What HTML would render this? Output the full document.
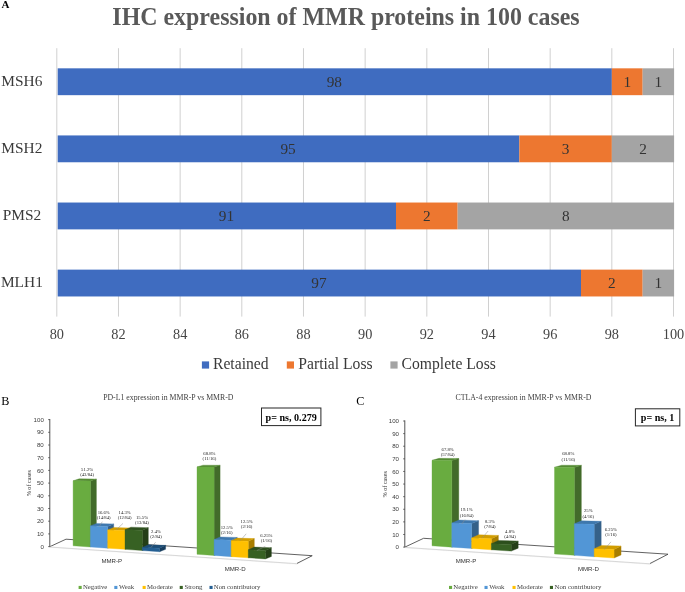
<!DOCTYPE html>
<html lang="en"><head><meta charset="utf-8"><title>IHC expression of MMR proteins</title>
<style>
html,body{margin:0;padding:0;background:#fff;}
body{width:685px;height:592px;overflow:hidden;}
svg{display:block;}
.sf{font-family:"Liberation Serif",serif;}
.ss{font-family:"Liberation Sans",sans-serif;}
</style></head><body>
<svg width="685" height="592" viewBox="0 0 685 592">
<rect width="685" height="592" fill="#ffffff"/>
<g id="panelA">
<text class="sf" x="1.5" y="8.4" font-size="11" text-anchor="start" fill="#000" font-weight="bold" >A</text>
<text class="sf" x="0" y="0" font-size="23.92" text-anchor="middle" fill="#595959" font-weight="bold" transform="translate(346,25.1) scale(1,1.04)">IHC expression of MMR proteins in 100 cases</text>
<line x1="56.8" y1="48.2" x2="56.8" y2="316.6" stroke="#d0d0d0" stroke-width="1"/>
<text class="sf" x="56.8" y="338.8" font-size="14.3" text-anchor="middle" fill="#454545" >80</text>
<line x1="118.47" y1="48.2" x2="118.47" y2="316.6" stroke="#d0d0d0" stroke-width="1"/>
<text class="sf" x="118.47" y="338.8" font-size="14.3" text-anchor="middle" fill="#454545" >82</text>
<line x1="180.14" y1="48.2" x2="180.14" y2="316.6" stroke="#d0d0d0" stroke-width="1"/>
<text class="sf" x="180.14" y="338.8" font-size="14.3" text-anchor="middle" fill="#454545" >84</text>
<line x1="241.81" y1="48.2" x2="241.81" y2="316.6" stroke="#d0d0d0" stroke-width="1"/>
<text class="sf" x="241.81" y="338.8" font-size="14.3" text-anchor="middle" fill="#454545" >86</text>
<line x1="303.48" y1="48.2" x2="303.48" y2="316.6" stroke="#d0d0d0" stroke-width="1"/>
<text class="sf" x="303.48" y="338.8" font-size="14.3" text-anchor="middle" fill="#454545" >88</text>
<line x1="365.15" y1="48.2" x2="365.15" y2="316.6" stroke="#d0d0d0" stroke-width="1"/>
<text class="sf" x="365.15" y="338.8" font-size="14.3" text-anchor="middle" fill="#454545" >90</text>
<line x1="426.82" y1="48.2" x2="426.82" y2="316.6" stroke="#d0d0d0" stroke-width="1"/>
<text class="sf" x="426.82" y="338.8" font-size="14.3" text-anchor="middle" fill="#454545" >92</text>
<line x1="488.49" y1="48.2" x2="488.49" y2="316.6" stroke="#d0d0d0" stroke-width="1"/>
<text class="sf" x="488.49" y="338.8" font-size="14.3" text-anchor="middle" fill="#454545" >94</text>
<line x1="550.16" y1="48.2" x2="550.16" y2="316.6" stroke="#d0d0d0" stroke-width="1"/>
<text class="sf" x="550.16" y="338.8" font-size="14.3" text-anchor="middle" fill="#454545" >96</text>
<line x1="611.83" y1="48.2" x2="611.83" y2="316.6" stroke="#d0d0d0" stroke-width="1"/>
<text class="sf" x="611.83" y="338.8" font-size="14.3" text-anchor="middle" fill="#454545" >98</text>
<line x1="673.5" y1="48.2" x2="673.5" y2="316.6" stroke="#d0d0d0" stroke-width="1"/>
<text class="sf" x="673.5" y="338.8" font-size="14.3" text-anchor="middle" fill="#454545" >100</text>
<rect x="57.7" y="68.33" width="554.13" height="26.84" fill="#3f6cc0"/>
<rect x="611.83" y="68.33" width="30.84" height="26.84" fill="#ed7730"/>
<rect x="642.66" y="68.33" width="31.44" height="26.84" fill="#a4a4a4"/>
<text class="sf" x="334.31" y="87.15" font-size="15.3" text-anchor="middle" fill="#333" >98</text>
<text class="sf" x="627.25" y="87.15" font-size="15.3" text-anchor="middle" fill="#333" >1</text>
<text class="sf" x="658.38" y="87.15" font-size="15.3" text-anchor="middle" fill="#333" >1</text>
<text class="sf" x="21.9" y="85.95" font-size="15.4" text-anchor="middle" fill="#3a3a3a" >MSH6</text>
<rect x="57.7" y="135.43" width="461.63" height="26.84" fill="#3f6cc0"/>
<rect x="519.33" y="135.43" width="92.5" height="26.84" fill="#ed7730"/>
<rect x="611.83" y="135.43" width="62.27" height="26.84" fill="#a4a4a4"/>
<text class="sf" x="288.06" y="154.25" font-size="15.3" text-anchor="middle" fill="#333" >95</text>
<text class="sf" x="565.58" y="154.25" font-size="15.3" text-anchor="middle" fill="#333" >3</text>
<text class="sf" x="642.96" y="154.25" font-size="15.3" text-anchor="middle" fill="#333" >2</text>
<text class="sf" x="21.9" y="153.05" font-size="15.4" text-anchor="middle" fill="#3a3a3a" >MSH2</text>
<rect x="57.7" y="202.53" width="338.29" height="26.84" fill="#3f6cc0"/>
<rect x="395.99" y="202.53" width="61.67" height="26.84" fill="#ed7730"/>
<rect x="457.66" y="202.53" width="216.44" height="26.84" fill="#a4a4a4"/>
<text class="sf" x="226.39" y="221.35" font-size="15.3" text-anchor="middle" fill="#333" >91</text>
<text class="sf" x="426.82" y="221.35" font-size="15.3" text-anchor="middle" fill="#333" >2</text>
<text class="sf" x="565.88" y="221.35" font-size="15.3" text-anchor="middle" fill="#333" >8</text>
<text class="sf" x="21.9" y="220.15" font-size="15.4" text-anchor="middle" fill="#3a3a3a" >PMS2</text>
<rect x="57.7" y="269.63" width="523.3" height="26.84" fill="#3f6cc0"/>
<rect x="581" y="269.63" width="61.67" height="26.84" fill="#ed7730"/>
<rect x="642.66" y="269.63" width="31.44" height="26.84" fill="#a4a4a4"/>
<text class="sf" x="318.9" y="288.45" font-size="15.3" text-anchor="middle" fill="#333" >97</text>
<text class="sf" x="611.83" y="288.45" font-size="15.3" text-anchor="middle" fill="#333" >2</text>
<text class="sf" x="658.38" y="288.45" font-size="15.3" text-anchor="middle" fill="#333" >1</text>
<text class="sf" x="21.9" y="287.25" font-size="15.4" text-anchor="middle" fill="#3a3a3a" >MLH1</text>
<rect x="201.9" y="361.4" width="7.2" height="7.2" fill="#3f6cc0"/>
<text class="sf" x="213" y="369.2" font-size="15.65" text-anchor="start" fill="#3a3a3a" >Retained</text>
<rect x="286.8" y="361.4" width="7.2" height="7.2" fill="#ed7730"/>
<text class="sf" x="298.3" y="369.2" font-size="15.65" text-anchor="start" fill="#3a3a3a" >Partial Loss</text>
<rect x="390.4" y="361.4" width="7.2" height="7.2" fill="#a4a4a4"/>
<text class="sf" x="401.6" y="369.2" font-size="15.65" text-anchor="start" fill="#3a3a3a" >Complete Loss</text>
</g>
<g id="panelB">
<text class="sf" x="1.3" y="404.9" font-size="12.2" text-anchor="start" fill="#000" >B</text>
<text class="sf" x="168.3" y="399.9" font-size="7.8" text-anchor="middle" fill="#404040" >PD-L1 expression in MMR-P vs MMR-D</text>
<polygon points="49.8,547.6 297,564.3 312.2,556.1 312.2,555.7 297,563.4 49.8,546.7" fill="#f0f0f0" stroke="#f0f0f0" stroke-width="0.35" stroke-linejoin="round" />
<polygon points="49.8,546.7 66,539.2 312.2,555.7 297,563.4" fill="#ffffff" stroke="#ffffff" stroke-width="0.35" stroke-linejoin="round" />
<polyline points="49.8,546.7 66,539.2 312.2,555.7 297,563.4" fill="none" stroke="#3a3a3a" stroke-width="0.8"/>
<line x1="49.8" y1="547" x2="297" y2="563.7" stroke="#d4d4d4" stroke-width="0.9"/>
<line x1="49.8" y1="419" x2="49.8" y2="546.8" stroke="#404040" stroke-width="0.9"/>
<line x1="48.2" y1="546.6" x2="49.8" y2="546.6" stroke="#404040" stroke-width="0.8"/>
<text class="ss" x="43.8" y="548.75" font-size="6.15" text-anchor="end" fill="#3c3c3c" >0</text>
<line x1="48.2" y1="533.9" x2="49.8" y2="533.9" stroke="#404040" stroke-width="0.8"/>
<text class="ss" x="43.8" y="536.05" font-size="6.15" text-anchor="end" fill="#3c3c3c" >10</text>
<line x1="48.2" y1="521.2" x2="49.8" y2="521.2" stroke="#404040" stroke-width="0.8"/>
<text class="ss" x="43.8" y="523.35" font-size="6.15" text-anchor="end" fill="#3c3c3c" >20</text>
<line x1="48.2" y1="508.5" x2="49.8" y2="508.5" stroke="#404040" stroke-width="0.8"/>
<text class="ss" x="43.8" y="510.65" font-size="6.15" text-anchor="end" fill="#3c3c3c" >30</text>
<line x1="48.2" y1="495.8" x2="49.8" y2="495.8" stroke="#404040" stroke-width="0.8"/>
<text class="ss" x="43.8" y="497.95" font-size="6.15" text-anchor="end" fill="#3c3c3c" >40</text>
<line x1="48.2" y1="483.1" x2="49.8" y2="483.1" stroke="#404040" stroke-width="0.8"/>
<text class="ss" x="43.8" y="485.25" font-size="6.15" text-anchor="end" fill="#3c3c3c" >50</text>
<line x1="48.2" y1="470.4" x2="49.8" y2="470.4" stroke="#404040" stroke-width="0.8"/>
<text class="ss" x="43.8" y="472.55" font-size="6.15" text-anchor="end" fill="#3c3c3c" >60</text>
<line x1="48.2" y1="457.7" x2="49.8" y2="457.7" stroke="#404040" stroke-width="0.8"/>
<text class="ss" x="43.8" y="459.85" font-size="6.15" text-anchor="end" fill="#3c3c3c" >70</text>
<line x1="48.2" y1="445" x2="49.8" y2="445" stroke="#404040" stroke-width="0.8"/>
<text class="ss" x="43.8" y="447.15" font-size="6.15" text-anchor="end" fill="#3c3c3c" >80</text>
<line x1="48.2" y1="432.3" x2="49.8" y2="432.3" stroke="#404040" stroke-width="0.8"/>
<text class="ss" x="43.8" y="434.45" font-size="6.15" text-anchor="end" fill="#3c3c3c" >90</text>
<line x1="48.2" y1="419.6" x2="49.8" y2="419.6" stroke="#404040" stroke-width="0.8"/>
<text class="ss" x="43.8" y="421.75" font-size="6.15" text-anchor="end" fill="#3c3c3c" >100</text>
<text class="sf" x="0" y="0" font-size="6.15" text-anchor="middle" fill="#333" transform="translate(31.4,483.2) rotate(-90)">% of cases</text>
<polygon points="90.4,481.02 96.4,479.09 96.4,544.65 90.4,546.99" fill="#426b2a" stroke="#426b2a" stroke-width="0.35" stroke-linejoin="round" />
<polygon points="73.1,480.78 79.1,478.85 96.4,479.09 90.4,481.02" fill="#548a33" stroke="#548a33" stroke-width="0.35" stroke-linejoin="round" />
<polygon points="73.1,480.78 90.4,481.02 90.4,546.99 73.1,545.8" fill="#69ac40" stroke="#69ac40" stroke-width="0.35" stroke-linejoin="round" />
<polygon points="107.7,526.42 113.7,523.93 113.7,545.82 107.7,548.17" fill="#356189" stroke="#356189" stroke-width="0.35" stroke-linejoin="round" />
<polygon points="90.4,525.9 96.4,523.41 113.7,523.93 107.7,526.42" fill="#3f78ad" stroke="#3f78ad" stroke-width="0.35" stroke-linejoin="round" />
<polygon points="90.4,525.9 107.7,526.42 107.7,548.17 90.4,546.99" fill="#5296d6" stroke="#5296d6" stroke-width="0.35" stroke-linejoin="round" />
<polygon points="125,530.55 131,528 131,546.99 125,549.36" fill="#a87e00" stroke="#a87e00" stroke-width="0.35" stroke-linejoin="round" />
<polygon points="107.7,530.01 113.7,527.46 131,528 125,530.55" fill="#d19d00" stroke="#d19d00" stroke-width="0.35" stroke-linejoin="round" />
<polygon points="107.7,530.01 125,530.55 125,549.36 107.7,548.17" fill="#ffc000" stroke="#ffc000" stroke-width="0.35" stroke-linejoin="round" />
<polygon points="142.3,530.2 148.3,527.66 148.3,548.16 142.3,550.54" fill="#243f17" stroke="#243f17" stroke-width="0.35" stroke-linejoin="round" />
<polygon points="125,529.67 131,527.13 148.3,527.66 142.3,530.2" fill="#2d4f1d" stroke="#2d4f1d" stroke-width="0.35" stroke-linejoin="round" />
<polygon points="125,529.67 142.3,530.2 142.3,550.54 125,549.36" fill="#376123" stroke="#376123" stroke-width="0.35" stroke-linejoin="round" />
<polygon points="159.6,548.13 165.6,545.36 165.6,549.33 159.6,551.73" fill="#173d5e" stroke="#173d5e" stroke-width="0.35" stroke-linejoin="round" />
<polygon points="142.3,547.49 148.3,544.73 165.6,545.36 159.6,548.13" fill="#1d4e78" stroke="#1d4e78" stroke-width="0.35" stroke-linejoin="round" />
<polygon points="142.3,547.49 159.6,548.13 159.6,551.73 142.3,550.54" fill="#245f93" stroke="#245f93" stroke-width="0.35" stroke-linejoin="round" />
<polygon points="214.1,467.02 220.1,465.26 220.1,553.02 214.1,555.46" fill="#426b2a" stroke="#426b2a" stroke-width="0.35" stroke-linejoin="round" />
<polygon points="197,466.91 203,465.16 220.1,465.26 214.1,467.02" fill="#548a33" stroke="#548a33" stroke-width="0.35" stroke-linejoin="round" />
<polygon points="197,466.91 214.1,467.02 214.1,555.46 197,554.29" fill="#69ac40" stroke="#69ac40" stroke-width="0.35" stroke-linejoin="round" />
<polygon points="231.2,540.13 237.2,537.46 237.2,554.17 231.2,556.63" fill="#356189" stroke="#356189" stroke-width="0.35" stroke-linejoin="round" />
<polygon points="214.1,539.58 220.1,536.92 237.2,537.46 231.2,540.13" fill="#3f78ad" stroke="#3f78ad" stroke-width="0.35" stroke-linejoin="round" />
<polygon points="214.1,539.58 231.2,540.13 231.2,556.63 214.1,555.46" fill="#5296d6" stroke="#5296d6" stroke-width="0.35" stroke-linejoin="round" />
<polygon points="248.3,541.3 254.3,538.62 254.3,555.34 248.3,557.8" fill="#a87e00" stroke="#a87e00" stroke-width="0.35" stroke-linejoin="round" />
<polygon points="231.2,540.75 237.2,538.07 254.3,538.62 248.3,541.3" fill="#d19d00" stroke="#d19d00" stroke-width="0.35" stroke-linejoin="round" />
<polygon points="231.2,540.75 248.3,541.3 248.3,557.8 231.2,556.63" fill="#ffc000" stroke="#ffc000" stroke-width="0.35" stroke-linejoin="round" />
<polygon points="265.4,550.46 271.4,547.66 271.4,556.51 265.4,558.97" fill="#243f17" stroke="#243f17" stroke-width="0.35" stroke-linejoin="round" />
<polygon points="248.3,549.86 254.3,547.07 271.4,547.66 265.4,550.46" fill="#2d4f1d" stroke="#2d4f1d" stroke-width="0.35" stroke-linejoin="round" />
<polygon points="248.3,549.86 265.4,550.46 265.4,558.97 248.3,557.8" fill="#376123" stroke="#376123" stroke-width="0.35" stroke-linejoin="round" />
<line x1="102.3" y1="521.7" x2="99.2" y2="526.6" stroke="#8c8c8c" stroke-width="0.5"/>
<line x1="123" y1="523.4" x2="116" y2="530" stroke="#8c8c8c" stroke-width="0.5"/>
<line x1="155.7" y1="542.2" x2="150.8" y2="547.5" stroke="#8c8c8c" stroke-width="0.5"/>
<line x1="246.2" y1="533.8" x2="240.4" y2="540.5" stroke="#8c8c8c" stroke-width="0.5"/>
<line x1="265.3" y1="546.4" x2="257" y2="550.4" stroke="#8c8c8c" stroke-width="0.5"/>
<text class="sf" x="87.1" y="470.6" font-size="4.7" text-anchor="middle" fill="#1c1c1c" >51.2%</text>
<text class="sf" x="87.1" y="475.5" font-size="4.7" text-anchor="middle" fill="#1c1c1c" >(43/84)</text>
<text class="sf" x="103.7" y="514.1" font-size="4.7" text-anchor="middle" fill="#1c1c1c" >16.6%</text>
<text class="sf" x="103.7" y="519" font-size="4.7" text-anchor="middle" fill="#1c1c1c" >(14/84)</text>
<text class="sf" x="124.6" y="514.1" font-size="4.7" text-anchor="middle" fill="#1c1c1c" >14.3%</text>
<text class="sf" x="124.6" y="519.3" font-size="4.7" text-anchor="middle" fill="#1c1c1c" >(12/84)</text>
<text class="sf" x="142" y="518.6" font-size="4.7" text-anchor="middle" fill="#1c1c1c" >15.5%</text>
<text class="sf" x="142" y="523.5" font-size="4.7" text-anchor="middle" fill="#1c1c1c" >(13/84)</text>
<text class="sf" x="156" y="533.2" font-size="4.7" text-anchor="middle" fill="#1c1c1c" >2.4%</text>
<text class="sf" x="156" y="538.1" font-size="4.7" text-anchor="middle" fill="#1c1c1c" >(2/84)</text>
<text class="sf" x="209.4" y="454.6" font-size="4.7" text-anchor="middle" fill="#1c1c1c" >68.8%</text>
<text class="sf" x="209.4" y="459.5" font-size="4.7" text-anchor="middle" fill="#1c1c1c" >(11/16)</text>
<text class="sf" x="226.8" y="528.6" font-size="4.7" text-anchor="middle" fill="#1c1c1c" >12.5%</text>
<text class="sf" x="226.8" y="533.5" font-size="4.7" text-anchor="middle" fill="#1c1c1c" >(2/16)</text>
<text class="sf" x="246.6" y="523" font-size="4.7" text-anchor="middle" fill="#1c1c1c" >12.5%</text>
<text class="sf" x="246.6" y="527.9" font-size="4.7" text-anchor="middle" fill="#1c1c1c" >(2/16)</text>
<text class="sf" x="266.4" y="537.1" font-size="4.7" text-anchor="middle" fill="#1c1c1c" >6.25%</text>
<text class="sf" x="266.4" y="542.3" font-size="4.7" text-anchor="middle" fill="#1c1c1c" >(1/16)</text>
<text class="ss" x="111.8" y="562.9" font-size="6.1" text-anchor="middle" fill="#333" >MMR-P</text>
<text class="ss" x="235.2" y="571.3" font-size="6.1" text-anchor="middle" fill="#333" >MMR-D</text>
<rect x="78.6" y="585.9" width="3.1" height="3.1" fill="#69ac40"/>
<text class="sf" x="83" y="589.3" font-size="6.75" text-anchor="start" fill="#404040" >Negative</text>
<rect x="114.3" y="585.9" width="3.1" height="3.1" fill="#5296d6"/>
<text class="sf" x="118.9" y="589.3" font-size="6.75" text-anchor="start" fill="#404040" >Weak</text>
<rect x="142.6" y="585.9" width="3.1" height="3.1" fill="#ffc000"/>
<text class="sf" x="147" y="589.3" font-size="6.75" text-anchor="start" fill="#404040" >Moderate</text>
<rect x="179.7" y="585.9" width="3.1" height="3.1" fill="#376123"/>
<text class="sf" x="184.4" y="589.3" font-size="6.75" text-anchor="start" fill="#404040" >Strong</text>
<rect x="209.5" y="585.9" width="3.1" height="3.1" fill="#245f93"/>
<text class="sf" x="213.8" y="589.3" font-size="6.75" text-anchor="start" fill="#404040" >Non contributory</text>
<rect x="261.5" y="408" width="59.4" height="17.6" fill="#fff" stroke="#262626" stroke-width="1"/>
<text class="sf" x="291.2" y="421" font-size="10.1" text-anchor="middle" fill="#000" font-weight="bold" >p= ns, 0.279</text>
</g>
<g id="panelC">
<text class="sf" x="356.2" y="404.8" font-size="12.2" text-anchor="start" fill="#000" >C</text>
<text class="sf" x="523.5" y="399.9" font-size="7.8" text-anchor="middle" fill="#404040" >CTLA-4 expression in MMR-P vs MMR-D</text>
<polygon points="404.9,548 650,564.4 668,554.6 668,554.2 650,563.5 404.9,547.1" fill="#f0f0f0" stroke="#f0f0f0" stroke-width="0.35" stroke-linejoin="round" />
<polygon points="404.9,547.1 423.6,538.3 668,554.2 650,563.5" fill="#ffffff" stroke="#ffffff" stroke-width="0.35" stroke-linejoin="round" />
<polyline points="404.9,547.1 423.6,538.3 668,554.2 650,563.5" fill="none" stroke="#3a3a3a" stroke-width="0.8"/>
<line x1="404.9" y1="547.4" x2="650" y2="563.8" stroke="#d4d4d4" stroke-width="0.9"/>
<line x1="404.8" y1="420.4" x2="404.8" y2="547.3" stroke="#404040" stroke-width="0.9"/>
<line x1="403.2" y1="547.1" x2="404.8" y2="547.1" stroke="#404040" stroke-width="0.8"/>
<text class="ss" x="399" y="549.25" font-size="6.15" text-anchor="end" fill="#3c3c3c" >0</text>
<line x1="403.2" y1="534.49" x2="404.8" y2="534.49" stroke="#404040" stroke-width="0.8"/>
<text class="ss" x="399" y="536.64" font-size="6.15" text-anchor="end" fill="#3c3c3c" >10</text>
<line x1="403.2" y1="521.88" x2="404.8" y2="521.88" stroke="#404040" stroke-width="0.8"/>
<text class="ss" x="399" y="524.03" font-size="6.15" text-anchor="end" fill="#3c3c3c" >20</text>
<line x1="403.2" y1="509.27" x2="404.8" y2="509.27" stroke="#404040" stroke-width="0.8"/>
<text class="ss" x="399" y="511.42" font-size="6.15" text-anchor="end" fill="#3c3c3c" >30</text>
<line x1="403.2" y1="496.66" x2="404.8" y2="496.66" stroke="#404040" stroke-width="0.8"/>
<text class="ss" x="399" y="498.81" font-size="6.15" text-anchor="end" fill="#3c3c3c" >40</text>
<line x1="403.2" y1="484.05" x2="404.8" y2="484.05" stroke="#404040" stroke-width="0.8"/>
<text class="ss" x="399" y="486.2" font-size="6.15" text-anchor="end" fill="#3c3c3c" >50</text>
<line x1="403.2" y1="471.44" x2="404.8" y2="471.44" stroke="#404040" stroke-width="0.8"/>
<text class="ss" x="399" y="473.59" font-size="6.15" text-anchor="end" fill="#3c3c3c" >60</text>
<line x1="403.2" y1="458.83" x2="404.8" y2="458.83" stroke="#404040" stroke-width="0.8"/>
<text class="ss" x="399" y="460.98" font-size="6.15" text-anchor="end" fill="#3c3c3c" >70</text>
<line x1="403.2" y1="446.22" x2="404.8" y2="446.22" stroke="#404040" stroke-width="0.8"/>
<text class="ss" x="399" y="448.37" font-size="6.15" text-anchor="end" fill="#3c3c3c" >80</text>
<line x1="403.2" y1="433.61" x2="404.8" y2="433.61" stroke="#404040" stroke-width="0.8"/>
<text class="ss" x="399" y="435.76" font-size="6.15" text-anchor="end" fill="#3c3c3c" >90</text>
<line x1="403.2" y1="421" x2="404.8" y2="421" stroke="#404040" stroke-width="0.8"/>
<text class="ss" x="399" y="423.15" font-size="6.15" text-anchor="end" fill="#3c3c3c" >100</text>
<text class="sf" x="0" y="0" font-size="6.15" text-anchor="middle" fill="#333" transform="translate(386.9,484.3) rotate(-90)">% of cases</text>
<polygon points="451.8,460.51 458.8,458.47 458.8,544.25 451.8,547.13" fill="#426b2a" stroke="#426b2a" stroke-width="0.35" stroke-linejoin="round" />
<polygon points="432,460.37 439,458.34 458.8,458.47 451.8,460.51" fill="#548a33" stroke="#548a33" stroke-width="0.35" stroke-linejoin="round" />
<polygon points="432,460.37 451.8,460.51 451.8,547.13 432,545.8" fill="#69ac40" stroke="#69ac40" stroke-width="0.35" stroke-linejoin="round" />
<polygon points="471.6,523.62 478.6,520.63 478.6,545.56 471.6,548.45" fill="#356189" stroke="#356189" stroke-width="0.35" stroke-linejoin="round" />
<polygon points="451.8,523.06 458.8,520.07 478.6,520.63 471.6,523.62" fill="#3f78ad" stroke="#3f78ad" stroke-width="0.35" stroke-linejoin="round" />
<polygon points="451.8,523.06 471.6,523.62 471.6,548.45 451.8,547.13" fill="#5296d6" stroke="#5296d6" stroke-width="0.35" stroke-linejoin="round" />
<polygon points="491.4,538.65 498.4,535.43 498.4,546.87 491.4,549.78" fill="#a87e00" stroke="#a87e00" stroke-width="0.35" stroke-linejoin="round" />
<polygon points="471.6,538 478.6,534.77 498.4,535.43 491.4,538.65" fill="#d19d00" stroke="#d19d00" stroke-width="0.35" stroke-linejoin="round" />
<polygon points="471.6,538 491.4,538.65 491.4,549.78 471.6,548.45" fill="#ffc000" stroke="#ffc000" stroke-width="0.35" stroke-linejoin="round" />
<polygon points="511.2,544.42 518.2,541.11 518.2,548.17 511.2,551.11" fill="#243f17" stroke="#243f17" stroke-width="0.35" stroke-linejoin="round" />
<polygon points="491.4,543.73 498.4,540.42 518.2,541.11 511.2,544.42" fill="#2d4f1d" stroke="#2d4f1d" stroke-width="0.35" stroke-linejoin="round" />
<polygon points="491.4,543.73 511.2,544.42 511.2,551.11 491.4,549.78" fill="#376123" stroke="#376123" stroke-width="0.35" stroke-linejoin="round" />
<polygon points="574.35,467.45 581.35,465.3 581.35,552.34 574.35,555.34" fill="#426b2a" stroke="#426b2a" stroke-width="0.35" stroke-linejoin="round" />
<polygon points="554.5,467.32 561.5,465.18 581.35,465.3 574.35,467.45" fill="#548a33" stroke="#548a33" stroke-width="0.35" stroke-linejoin="round" />
<polygon points="554.5,467.32 574.35,467.45 574.35,555.34 554.5,554.01" fill="#69ac40" stroke="#69ac40" stroke-width="0.35" stroke-linejoin="round" />
<polygon points="594.2,524.35 601.2,521.34 601.2,553.65 594.2,556.67" fill="#356189" stroke="#356189" stroke-width="0.35" stroke-linejoin="round" />
<polygon points="574.35,523.84 581.35,520.83 601.2,521.34 594.2,524.35" fill="#3f78ad" stroke="#3f78ad" stroke-width="0.35" stroke-linejoin="round" />
<polygon points="574.35,523.84 594.2,524.35 594.2,556.67 574.35,555.34" fill="#5296d6" stroke="#5296d6" stroke-width="0.35" stroke-linejoin="round" />
<polygon points="614.05,549.47 621.05,546.08 621.05,554.97 614.05,558" fill="#a87e00" stroke="#a87e00" stroke-width="0.35" stroke-linejoin="round" />
<polygon points="594.2,548.79 601.2,545.41 621.05,546.08 614.05,549.47" fill="#d19d00" stroke="#d19d00" stroke-width="0.35" stroke-linejoin="round" />
<polygon points="594.2,548.79 614.05,549.47 614.05,558 594.2,556.67" fill="#ffc000" stroke="#ffc000" stroke-width="0.35" stroke-linejoin="round" />
<line x1="465" y1="519.6" x2="461.8" y2="524" stroke="#8c8c8c" stroke-width="0.5"/>
<line x1="488.1" y1="531" x2="482" y2="538.3" stroke="#8c8c8c" stroke-width="0.5"/>
<line x1="610.9" y1="541.9" x2="604.4" y2="549.5" stroke="#8c8c8c" stroke-width="0.5"/>
<text class="sf" x="447.6" y="450.7" font-size="4.7" text-anchor="middle" fill="#1c1c1c" >67.8%</text>
<text class="sf" x="447.6" y="455.6" font-size="4.7" text-anchor="middle" fill="#1c1c1c" >(57/84)</text>
<text class="sf" x="466.6" y="511.4" font-size="4.7" text-anchor="middle" fill="#1c1c1c" >19.1%</text>
<text class="sf" x="466.6" y="516.7" font-size="4.7" text-anchor="middle" fill="#1c1c1c" >(16/84)</text>
<text class="sf" x="489.9" y="522.8" font-size="4.7" text-anchor="middle" fill="#1c1c1c" >8.3%</text>
<text class="sf" x="489.9" y="528.1" font-size="4.7" text-anchor="middle" fill="#1c1c1c" >(7/84)</text>
<text class="sf" x="510" y="532.7" font-size="4.7" text-anchor="middle" fill="#1c1c1c" >4.8%</text>
<text class="sf" x="510" y="537.9" font-size="4.7" text-anchor="middle" fill="#1c1c1c" >(4/84)</text>
<text class="sf" x="568.3" y="455.4" font-size="4.7" text-anchor="middle" fill="#1c1c1c" >68.8%</text>
<text class="sf" x="568.3" y="460.5" font-size="4.7" text-anchor="middle" fill="#1c1c1c" >(11/16)</text>
<text class="sf" x="588.3" y="512.4" font-size="4.7" text-anchor="middle" fill="#1c1c1c" >25%</text>
<text class="sf" x="588.3" y="517.7" font-size="4.7" text-anchor="middle" fill="#1c1c1c" >(4/16)</text>
<text class="sf" x="610.9" y="531.2" font-size="4.7" text-anchor="middle" fill="#1c1c1c" >6.25%</text>
<text class="sf" x="610.9" y="536.4" font-size="4.7" text-anchor="middle" fill="#1c1c1c" >(1/16)</text>
<text class="ss" x="466" y="563.4" font-size="6.1" text-anchor="middle" fill="#333" >MMR-P</text>
<text class="ss" x="588.4" y="571.2" font-size="6.1" text-anchor="middle" fill="#333" >MMR-D</text>
<rect x="449" y="585.9" width="3.1" height="3.1" fill="#69ac40"/>
<text class="sf" x="453.3" y="589.3" font-size="6.75" text-anchor="start" fill="#404040" >Negative</text>
<rect x="484.5" y="585.9" width="3.1" height="3.1" fill="#5296d6"/>
<text class="sf" x="489.2" y="589.3" font-size="6.75" text-anchor="start" fill="#404040" >Weak</text>
<rect x="512.5" y="585.9" width="3.1" height="3.1" fill="#ffc000"/>
<text class="sf" x="516.9" y="589.3" font-size="6.75" text-anchor="start" fill="#404040" >Moderate</text>
<rect x="549.9" y="585.9" width="3.1" height="3.1" fill="#376123"/>
<text class="sf" x="554.6" y="589.3" font-size="6.75" text-anchor="start" fill="#404040" >Non contributory</text>
<rect x="635.4" y="408.8" width="44.4" height="17.1" fill="#fff" stroke="#262626" stroke-width="1"/>
<text class="sf" x="657.6" y="421" font-size="10.1" text-anchor="middle" fill="#000" font-weight="bold" >p= ns, 1</text>
</g>
</svg>
</body></html>
